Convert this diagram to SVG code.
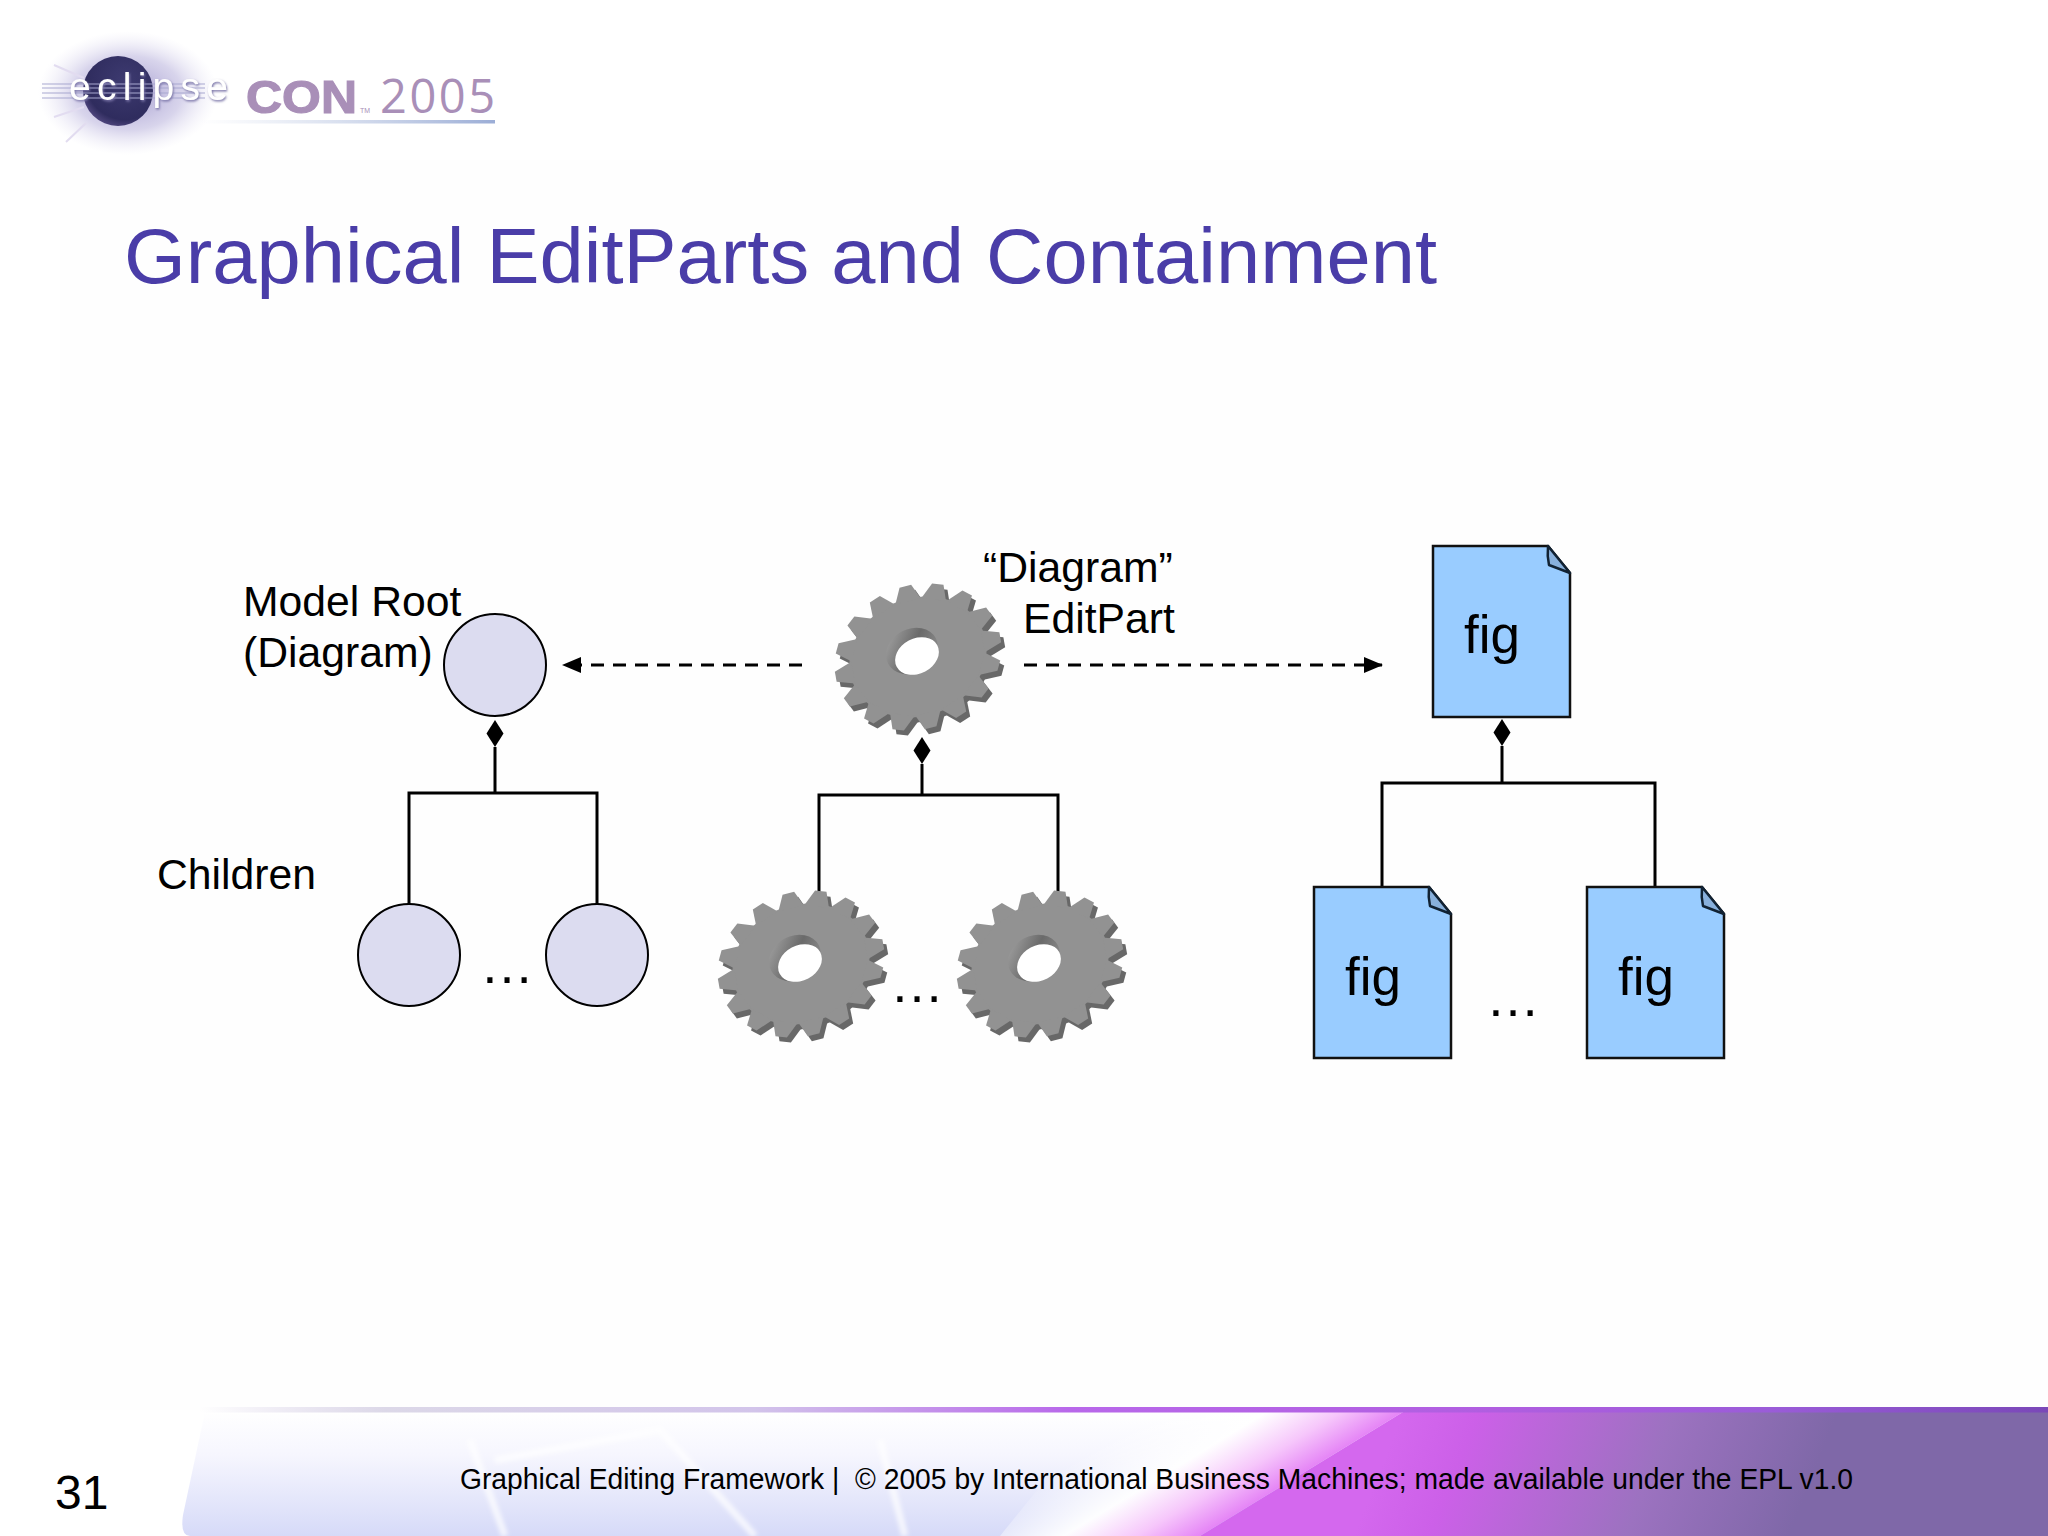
<svg xmlns="http://www.w3.org/2000/svg" xmlns:xlink="http://www.w3.org/1999/xlink" width="2048" height="1536" viewBox="0 0 2048 1536">
<style>
text{font-family:"Liberation Sans",Arial,sans-serif;fill:#000}
.lab{font-size:42.700px}
.figt{font-size:53px}
.ell{font-size:54px}
.conn{fill:none;stroke:#000;stroke-width:3}
.dash{fill:none;stroke:#000;stroke-width:3;stroke-dasharray:13 9}
.circ{fill:#dcdcf0;stroke:#000;stroke-width:2}
.doc{fill:#99ccff;stroke:#111;stroke-width:2.500}
.fold{fill:#88b0dc;stroke:#123;stroke-width:2.500;stroke-linejoin:round}
</style>
<defs>
<marker id="dia" markerUnits="userSpaceOnUse" markerWidth="18" markerHeight="28" viewBox="0 0 18 28" refX="9" refY="27" orient="0"><path d="M9 0L17.500 13.500L9 27L.5 13.500Z" fill="#000"/></marker>
<marker id="arr" markerUnits="userSpaceOnUse" markerWidth="20" markerHeight="16" viewBox="0 0 20 16" refX="18" refY="8" orient="auto"><path d="M0 0L19 8L0 16Z" fill="#000"/></marker>
<radialGradient id="glow"><stop offset="0" stop-color="#8a80c0" stop-opacity=".8"/><stop offset=".6" stop-color="#a8a0d4" stop-opacity=".45"/><stop offset="1" stop-color="#d8d4ee" stop-opacity="0"/></radialGradient>
<radialGradient id="ball" cx=".6" cy=".35" r=".8"><stop offset="0" stop-color="#3d3a70"/><stop offset=".7" stop-color="#2f2c5e"/><stop offset="1" stop-color="#6f5f9c"/></radialGradient>
<linearGradient id="ul"><stop offset="0" stop-color="#c0cbe4" stop-opacity="0"/><stop offset="1" stop-color="#9badd6"/></linearGradient>
<linearGradient id="bar"><stop offset="0" stop-color="#d8d0e8" stop-opacity="0"/><stop offset=".1" stop-color="#dcd8e8"/><stop offset=".3" stop-color="#d2c4ea"/><stop offset=".47" stop-color="#b868ea"/><stop offset=".7" stop-color="#b05ee0"/><stop offset=".85" stop-color="#9a5cd8"/><stop offset="1" stop-color="#7a48b8"/></linearGradient>
<linearGradient id="bandL" x1="0" y1="0" x2="0" y2="1"><stop offset="0" stop-color="#fff"/><stop offset=".35" stop-color="#f6f6fe"/><stop offset="1" stop-color="#d6daf8"/></linearGradient>
<linearGradient id="bandPink" gradientUnits="userSpaceOnUse" x1="1336" y1="1302" x2="1403" y2="1412"><stop offset="0" stop-color="#fff" stop-opacity="0"/><stop offset=".45" stop-color="#fff" stop-opacity=".95"/><stop offset=".75" stop-color="#f6c6fb"/><stop offset="1" stop-color="#e585f6"/></linearGradient>
<linearGradient id="bandR" gradientUnits="userSpaceOnUse" x1="1403" y1="1412" x2="1903" y2="1612"><stop offset="0" stop-color="#d468ee"/><stop offset=".13" stop-color="#cc60e8"/><stop offset=".47" stop-color="#9c72c0"/><stop offset=".75" stop-color="#7f68a8"/><stop offset="1" stop-color="#7f68a8"/></linearGradient>
<linearGradient id="holeG" x1="0" y1="0" x2="1" y2="1"><stop offset="0" stop-color="#a8a8a8"/><stop offset=".5" stop-color="#6a6a6a"/><stop offset="1" stop-color="#999"/></linearGradient>
<filter id="sh" x="-10%" y="-20%" width="120%" height="150%"><feDropShadow dx="1" dy="1.500" stdDeviation=".8" flood-color="#7a74a8" flood-opacity="1"/></filter>
<filter id="blur2"><feGaussianBlur stdDeviation="2"/></filter>
<path id="tooth" d="M-13-67L-6-85L6-85L13-67Z"/>
<g id="wheel">
<circle r="70"/>
<use xlink:href="#tooth"/><use xlink:href="#tooth" transform="rotate(22.500)"/><use xlink:href="#tooth" transform="rotate(45)"/><use xlink:href="#tooth" transform="rotate(67.500)"/><use xlink:href="#tooth" transform="rotate(90)"/><use xlink:href="#tooth" transform="rotate(112.500)"/><use xlink:href="#tooth" transform="rotate(135)"/><use xlink:href="#tooth" transform="rotate(157.500)"/><use xlink:href="#tooth" transform="rotate(180)"/><use xlink:href="#tooth" transform="rotate(202.500)"/><use xlink:href="#tooth" transform="rotate(225)"/><use xlink:href="#tooth" transform="rotate(247.500)"/><use xlink:href="#tooth" transform="rotate(270)"/><use xlink:href="#tooth" transform="rotate(292.500)"/><use xlink:href="#tooth" transform="rotate(315)"/><use xlink:href="#tooth" transform="rotate(337.500)"/>
</g>
<g id="gear">
<g transform="translate(2,4) rotate(-22) scale(1,.84) rotate(10)" fill="#686868"><use xlink:href="#wheel"/></g>
<g transform="translate(-2,-1) rotate(-22) scale(1,.84) rotate(10)" fill="#929292"><use xlink:href="#wheel"/></g>
<ellipse cx="-8" cy="-7" rx="27" ry="22" transform="rotate(-28 -8 -7)" fill="url(#holeG)"/>
<ellipse cx="-3" cy="-2" rx="23" ry="17.500" transform="rotate(-28 -3 -2)" fill="#fff"/>
</g>
</defs>

<rect width="2048" height="1536" fill="#fff"/>
<rect x="60" y="160" width="1988" height="1250" fill="#fefefe"/>

<g id="logo">
<ellipse cx="128" cy="93" rx="90" ry="62" fill="url(#glow)"/>
<path d="M54 65L84 78M54 117L84 107M66 142L86 123" stroke="#e2dcf0" stroke-width="2" fill="none"/>
<circle cx="118" cy="91" r="35" fill="url(#ball)"/>
<path d="M42 84H205M42 88H205M42 93H205M42 98H205" stroke="#a7a8d0" stroke-width="1.200" fill="none"/>
<text x="69" y="100" font-size="39" style="fill:#fff" filter="url(#sh)" textLength="159">eclipse</text>
<text x="246" y="113" font-size="47" font-weight="700" style="fill:#a98fb8;stroke:#a98fb8;stroke-width:1.200" textLength="111" lengthAdjust="spacingAndGlyphs">CON</text>
<text x="360" y="113" font-size="7" style="fill:#a98fb8">TM</text>
<text x="380" y="113" font-size="47" style="fill:#a98fb8;font-family:'Open Sans',sans-serif" textLength="115">2005</text>
<rect x="200" y="120" width="295" height="3.500" fill="url(#ul)"/>
</g>

<text id="title" x="124" y="283" font-size="78.500" style="fill:#4a3da8" textLength="1313" lengthAdjust="spacingAndGlyphs">Graphical EditParts and Containment</text>

<g id="connectors">
<path class="conn" d="M495 747V793M409 904V793H597V904" marker-start="url(#dia)"/>
<path class="conn" d="M922 764V795M819 893V795H1058V893" marker-start="url(#dia)"/>
<path class="conn" d="M1502 746V783M1382 887V783H1655V887" marker-start="url(#dia)"/>
<path class="dash" d="M802 665H563" marker-end="url(#arr)"/>
<path class="dash" d="M1024 665H1382" marker-end="url(#arr)"/>
</g>

<g id="node-model-root">
<circle class="circ" cx="495" cy="665" r="51"/>
<text class="lab" x="243" y="616">Model Root</text>
<text class="lab" x="243" y="667">(Diagram)</text>
</g>
<g id="node-child-1"><circle class="circ" cx="409" cy="955" r="51"/></g>
<g id="node-child-2"><circle class="circ" cx="597" cy="955" r="51"/></g>
<text id="label-children" class="lab" x="157" y="889">Children</text>
<text class="ell" x="480" y="983">…</text>

<g id="node-editpart">
<use xlink:href="#gear" x="920" y="658"/>
<text class="lab" x="983" y="582">“Diagram”</text>
<text class="lab" x="1023" y="633">EditPart</text>
</g>
<g id="node-editpart-child-1"><use xlink:href="#gear" x="803" y="965"/></g>
<g id="node-editpart-child-2"><use xlink:href="#gear" x="1042" y="965"/></g>
<text class="ell" x="890" y="1002">…</text>

<g id="node-fig">
<path class="doc" d="M1433 546H1548L1570 573V717H1433Z"/>
<path class="fold" d="M1548 546L1570 573L1549 565Q1547 556 1548 546Z"/>
<text class="figt" x="1464" y="653">fig</text>
</g>
<g id="node-fig-child-1">
<path class="doc" d="M1314 887H1429L1451 914V1058H1314Z"/>
<path class="fold" d="M1429 887L1451 914L1430 906Q1428 897 1429 887Z"/>
<text class="figt" x="1345" y="995">fig</text>
</g>
<g id="node-fig-child-2">
<path class="doc" d="M1587 887H1702L1724 914V1058H1587Z"/>
<path class="fold" d="M1702 887L1724 914L1703 906Q1701 897 1702 887Z"/>
<text class="figt" x="1618" y="995">fig</text>
</g>
<text class="ell" x="1486" y="1016">…</text>

<g id="footer">
<path d="M205 1412H2048V1536H190Q180 1536 183 1515Z" fill="url(#bandL)"/>
<g filter="url(#blur2)" stroke="#fff" stroke-opacity=".7" fill="none">
<path d="M470 1440L505 1536M495 1460L660 1430L755 1536M880 1440L905 1536" stroke-width="7"/>
</g>
<path d="M1100 1412H1403L1200 1536H1000Z" fill="url(#bandPink)"/>
<path d="M1403 1412H2048V1536H1200Z" fill="url(#bandR)"/>
<rect x="200" y="1407" width="1848" height="5.500" fill="url(#bar)"/>
<text x="55" y="1509" font-size="48">31</text>
<text x="460" y="1489" font-size="28.800" style="white-space:pre" textLength="1393" lengthAdjust="spacingAndGlyphs">Graphical Editing Framework |  © 2005 by International Business Machines; made available under the EPL v1.0</text>
</g>
</svg>
